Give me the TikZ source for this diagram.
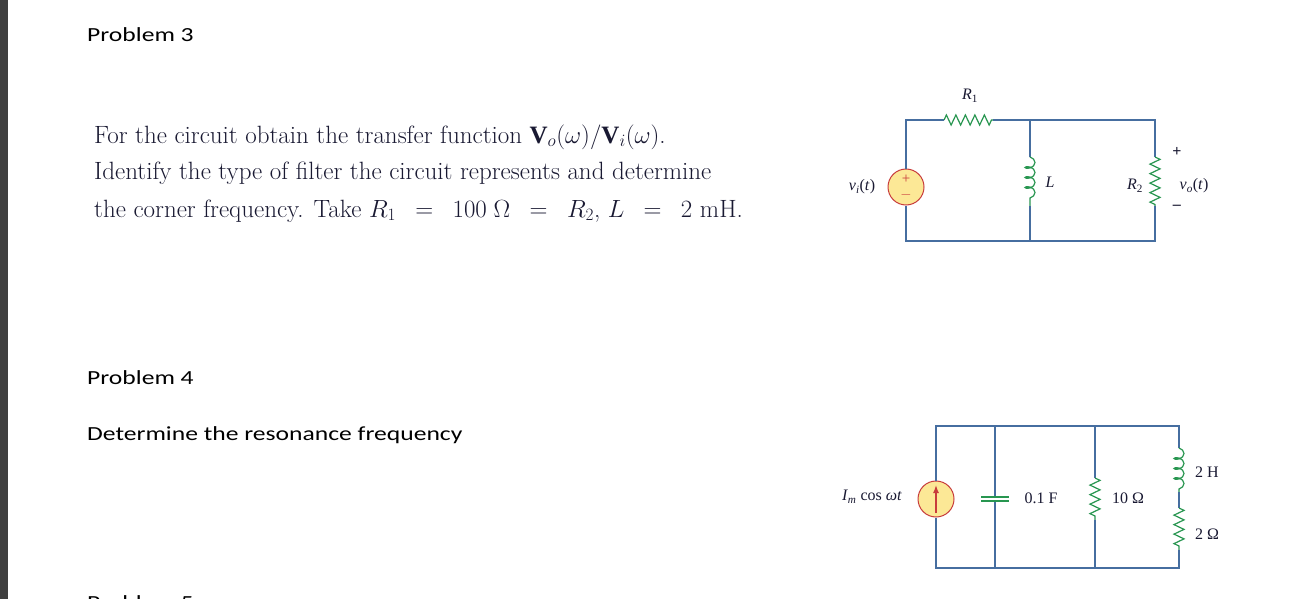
\documentclass[tikz,border=0pt]{standalone}
\usepackage{fontspec}
\setmainfont{Liberation Serif}
\newfontfamily\headfont[FakeStretch=1.28]{Carlito}
\newfontfamily\bodyfont{Latin Modern Roman}
\usetikzlibrary{decorations.pathmorphing,arrows.meta}
\definecolor{wire}{RGB}{70,110,160}
\definecolor{comp}{RGB}{40,150,80}
\definecolor{srcfill}{RGB}{252,232,150}
\definecolor{srcline}{RGB}{200,60,60}
\definecolor{ink}{RGB}{25,25,50}
\tikzset{
  wr/.style={draw=wire,line width=1.4pt},
  res/.style={draw=comp,line width=1.2pt,decorate,decoration={zigzag,amplitude=5pt,segment length=9.5pt}},
  ind/.style={draw=comp,line width=1.2pt,decorate,decoration={coil,amplitude=5pt,segment length=10pt,aspect=0.6}},
  src/.style={circle,draw=srcline,fill=srcfill,line width=1pt,minimum size=36pt,inner sep=0pt},
  lbl/.style={text=ink,font=\fontsize{16}{18}\selectfont,inner sep=1pt},
  head/.style={font=\headfont\fontsize{20}{24}\selectfont,anchor=west,inner sep=0pt},
  body/.style={text=ink,font=\bodyfont\fontsize{25}{30}\selectfont,anchor=west,inner sep=0pt}
}
\begin{document}
\begin{tikzpicture}[x=1pt,y=-1pt]
\useasboundingbox (0,0) rectangle (1311,599);
\clip (0,0) rectangle (1311,599);
\fill[white] (0,0) rectangle (1311,599);
\fill[black!75] (0,0) rectangle (8,599);
\node[head] (p3) at (87,35) {Problem 3};
\node[head] (p4) at (87,378) {Problem 4};
\node[head] (p4t) at (87,435) {Determine the resonance frequency};
\node[head] (p5) at (87,603) {Problem 5};
\node[body] (t1) at (94,137) {For the circuit obtain the transfer function $\mathbf{V}_o(\omega)/\mathbf{V}_i(\omega)$.};
\node[body] (t2) at (94,173) {Identify the type of filter the circuit represents and determine};
\node[body] (t3) at (94,211) {the corner frequency. Take $R_1\mkern9mu=\mkern9mu100\;\Omega\mkern9mu=\mkern9mu R_2$, $L\mkern9mu=\mkern9mu2$ mH.};
% circuit 1
\coordinate (a1) at (906,120); \coordinate (a2) at (1030,120); \coordinate (a3) at (1155,120);
\coordinate (b1) at (906,241); \coordinate (b2) at (1030,241); \coordinate (b3) at (1155,241);
\coordinate (r1a) at (944,120); \coordinate (r1b) at (993,120);
\coordinate (la) at (1030,157); \coordinate (lb) at (1030,206);
\coordinate (r2a) at (1155,157); \coordinate (r2b) at (1155,206);
\node[src] (vs) at (906,187) {};
\node[text=srcline,font=\fontsize{15}{15}\selectfont,inner sep=0pt] (vsp) at (906,179) {+};
\node[text=srcline,font=\fontsize{15}{15}\selectfont,inner sep=0pt] (vsm) at (906,195) {$-$};
\draw[wr] (vs.north) -- (a1) -- (r1a);
\draw[res] (r1a) -- (r1b);
\draw[wr] (r1b) -- (a3) -- (r2a);
\draw[res] (r2a) -- (r2b);
\draw[wr] (r2b) -- (b3) -- (b1) -- (vs.south);
\draw[wr] (a2) -- (la); \draw[ind] (la) -- (lb); \draw[wr] (lb) -- (b2);
\node[lbl] (lR1) at (970,96) {\textit{R}\textsubscript{1}};
\node[lbl] (lvi) at (862,187) {\textit{v}\textsubscript{\textit{i}}(\textit{t})};
\node[lbl] (lL) at (1050,182) {\textit{L}};
\node[lbl] (lR2) at (1135,186) {\textit{R}\textsubscript{2}};
\node[lbl] (lvo) at (1194,186) {\textit{v}\textsubscript{\textit{o}}(\textit{t})};
\node[lbl] (lp) at (1177,152) {\textbf{+}};
\node[lbl] (lm) at (1177,207) {\textbf{–}};
% circuit 2
\coordinate (c1) at (936,426); \coordinate (c2) at (995,426); \coordinate (c3) at (1095,426); \coordinate (c4) at (1179,426);
\coordinate (d1) at (936,568); \coordinate (d2) at (995,568); \coordinate (d3) at (1095,568); \coordinate (d4) at (1179,568);
\node[src] (is) at (936,499) {};
\coordinate (isb) at (936,513); \coordinate (ist) at (936,485);
\draw[srcline,line width=1.4pt,-{Latex[length=8pt,width=6pt]}] (isb) -- (ist);
\coordinate (ca) at (995,497); \coordinate (cb) at (995,501);
\coordinate (ra) at (1095,478); \coordinate (rb) at (1095,520);
\coordinate (l2a) at (1179,448); \coordinate (l2b) at (1179,492);
\coordinate (r3a) at (1179,508); \coordinate (r3b) at (1179,550);
\draw[wr] (is.north) -- (c1) -- (c4) -- (l2a);
\draw[ind] (l2a) -- (l2b);
\draw[wr] (l2b) -- (r3a);
\draw[res] (r3a) -- (r3b);
\draw[wr] (r3b) -- (d4) -- (d1) -- (is.south);
\draw[wr] (c2) -- (ca); \draw[wr] (cb) -- (d2);
\draw[comp,line width=1.2pt] ([xshift=-14pt]ca) -- ([xshift=14pt]ca);
\draw[comp,line width=1.2pt] ([xshift=-14pt]cb) -- ([xshift=14pt]cb);
\draw[wr] (c3) -- (ra); \draw[res] (ra) -- (rb); \draw[wr] (rb) -- (d3);
\node[lbl] (lim) at (872,497) {\textit{I}\textsubscript{\textit{m}} cos \textit{ωt}};
\node[lbl] (lc) at (1041,498) {0.1 F};
\node[lbl] (l10) at (1128,498) {10 Ω};
\node[lbl] (l2H) at (1207,472) {2 H};
\node[lbl] (l2o) at (1207,534) {2 Ω};
\end{tikzpicture}
\end{document}
